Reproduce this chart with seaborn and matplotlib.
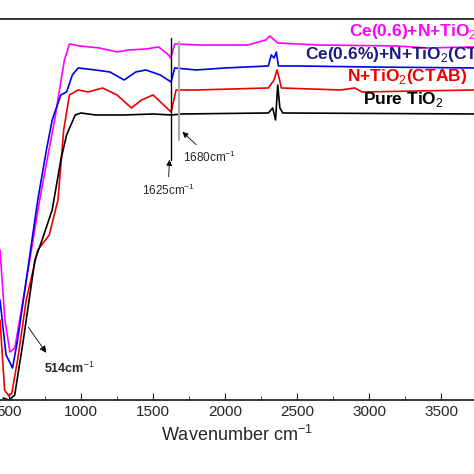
import numpy as np
import pandas as pd
import matplotlib
matplotlib.use("Agg")
import matplotlib.pyplot as plt
import seaborn as sns

# FTIR traces, keypoints (arbitrary transmittance units)
wn_mag = [438, 472, 507, 541, 610, 713, 817, 885, 920, 988, 1126, 1250, 1333, 1450, 1539, 1608, 1622, 1650, 1815, 2159, 2282, 2310, 2365, 2640, 3190, 3397, 3727]
tr_mag = [150, 80, 48, 52, 110, 200, 280, 340, 356, 354, 352, 348, 350, 351, 353, 345, 342, 356, 355, 355, 360, 364, 357, 355, 354, 352, 353]

wn_blue = [438, 480, 505, 525, 560, 620, 700, 760, 800, 860, 900, 940, 980, 1100, 1200, 1300, 1380, 1450, 1550, 1625, 1650, 1800, 2000, 2300, 2320, 2340, 2355, 2370, 2500, 3000, 3727]
tr_blue = [100, 45, 38, 32, 60, 120, 200, 250, 280, 305, 308, 325, 332, 330, 328, 320, 328, 330, 325, 318, 332, 330, 332, 334, 345, 342, 348, 334, 334, 333, 332]

wn_red = [438, 470, 500, 520, 560, 620, 700, 780, 840, 880, 920, 980, 1050, 1150, 1250, 1350, 1420, 1500, 1625, 1660, 1800, 2300, 2340, 2360, 2375, 2390, 2800, 2900, 2950, 3727]
tr_red = [80, 10, 4, 7, 40, 100, 150, 165, 200, 270, 305, 310, 308, 312, 305, 292, 300, 305, 288, 310, 310, 312, 320, 330, 322, 312, 310, 312, 308, 310]

wn_blk = [460, 500, 540, 600, 680, 730, 800, 860, 900, 960, 1000, 1100, 1300, 1500, 1625, 1700, 2300, 2330, 2350, 2365, 2380, 2400, 3727]
tr_blk = [2, 0, 5, 60, 140, 160, 190, 240, 265, 285, 287, 285, 285, 286, 285, 286, 287, 292, 280, 315, 292, 287, 286]

series = [
    ("Ce(0.6)+N+TiO$_2$", wn_mag, tr_mag, "#ff00ff"),
    ("Ce(0.6%)+N+TiO$_2$(CTAB)", wn_blue, tr_blue, "#0000ee"),
    ("N+TiO$_2$(CTAB)", wn_red, tr_red, "#ee0000"),
    ("Pure TiO$_2$", wn_blk, tr_blk, "black"),
]
label_pos = [(2860, 368, "#ff00ff"), (2551, 345, "#1a1a80"), (2847, 323, "#ee0000"), (2957, 300, "black")]

sns.set_style("ticks")
plt.rcParams["font.family"] = ["Liberation Sans", "DejaVu Sans"]
plt.rcParams["mathtext.fontset"] = "custom"
plt.rcParams["mathtext.rm"] = "Liberation Sans"
plt.rcParams["mathtext.bf"] = "Liberation Sans:bold"
fig = plt.figure(figsize=(4.74, 4.74), dpi=100)
ax = fig.add_axes([0.0, 0.156, 1.0, 0.804])

for (name, wn, tr, col), (lx, ly, lc) in zip(series, label_pos):
    df = pd.DataFrame({"wn": wn, "tr": tr})
    sns.lineplot(data=df, x="wn", y="tr", sort=False, color=col, lw=1.2, ax=ax)
    ax.text(lx, ly, name, color=lc, fontsize=12.5, fontweight="bold", va="center", ha="left")

# marker lines at 1625 and 1680
ax.plot([1625, 1625], [240, 362], color="black", lw=1)
ax.plot([1680, 1680], [260, 358], color="#aaaaaa", lw=1.5)
ax.annotate("1625cm$^{-1}$", xy=(1615, 243), xytext=(1420, 205), fontsize=8.5,
            arrowprops=dict(arrowstyle="-|>", color="black", lw=0.6))
ax.annotate("1680cm$^{-1}$", xy=(1690, 270), xytext=(1710, 238), fontsize=8.5,
            arrowprops=dict(arrowstyle="-|>", color="black", lw=0.6))
ax.annotate("", xy=(770, 45), xytext=(624, 75),
            arrowprops=dict(arrowstyle="-|>", color="black", lw=0.6))
ax.text(745, 32, "514cm$^{-1}$", fontsize=9, fontweight="bold", va="center")

ax.set_xlim(438, 3727)
ax.set_ylim(0, 381)
ax.set_xticks([500, 1000, 1500, 2000, 2500, 3000, 3500])
ax.set_xticks(np.arange(750, 3727, 500), minor=True)
ax.tick_params(axis="x", direction="in", labelsize=11, length=5)
ax.tick_params(axis="x", which="minor", direction="in", length=3)
ax.set_yticks([])
ax.set_ylabel("")
ax.set_xlabel("Wavenumber cm$^{-1}$", fontsize=13)
for s in ["left", "right"]:
    ax.spines[s].set_visible(False)
for s in ["top", "bottom"]:
    ax.spines[s].set_linewidth(1.3)

fig.savefig("out.png", dpi=100)
